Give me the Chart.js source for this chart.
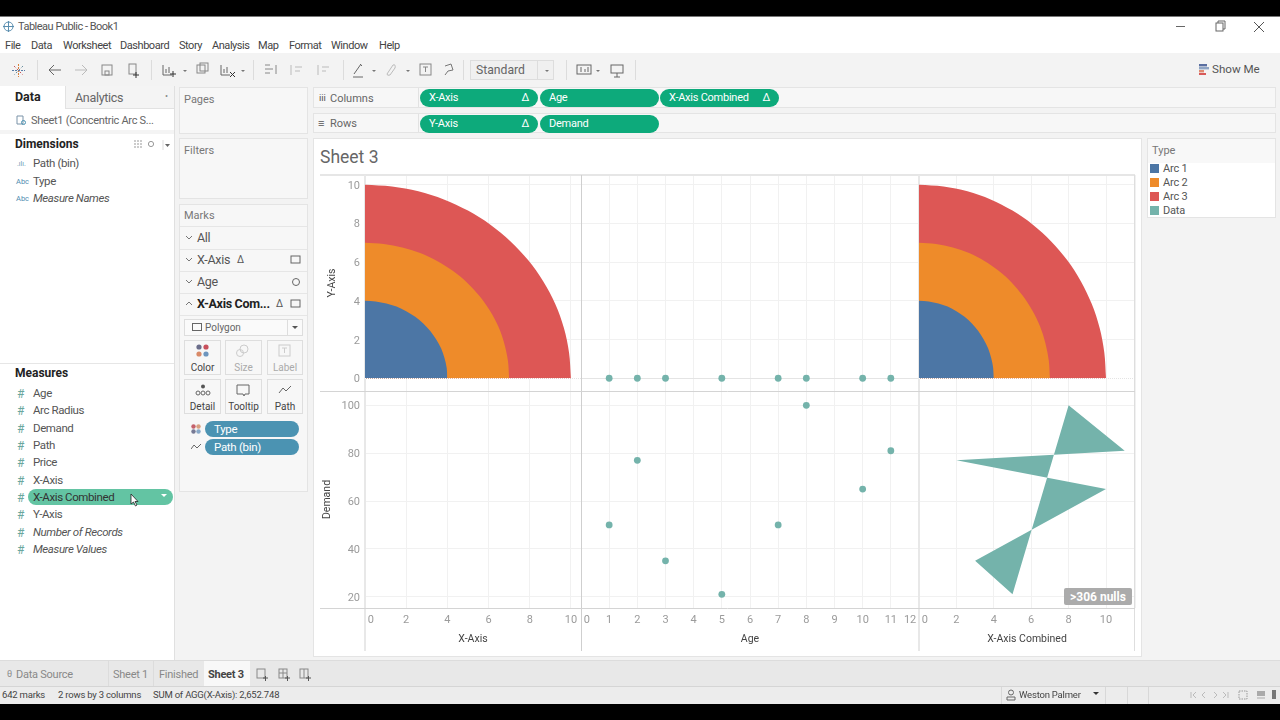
<!DOCTYPE html>
<html>
<head>
<meta charset="utf-8">
<title>Tableau Public - Book1</title>
<script src="https://cdn.jsdelivr.net/npm/chart.js@4"></script>
<style>
html, body { margin: 0; padding: 0; width: 1280px; height: 720px; overflow: hidden; background: #000; }
body { font-family: Roboto, sans-serif; font-size: 12px; color: #555; position: relative; }
div, svg, canvas { position: absolute; }
.t { position: absolute; white-space: nowrap; transform: translateY(-50%); line-height: 1; }
.box { background: #f7f7f7; border: 1px solid #e4e4e4; box-sizing: border-box; }
.pill { background: #0daa7b; color: #fff; border-radius: 9px; height: 18px; line-height: 18px; font-size: 11px; letter-spacing: -0.25px; box-sizing: border-box; padding-left: 9px; }
.pill b { position: absolute; right: 9px; top: 0; font-weight: 400; }
.bpill { background: #4b93b2; color: #fff; border-radius: 8px; height: 16px; line-height: 16px; left: 205px; width: 94px; padding-left: 9px; box-sizing: border-box; font-size: 11.5px; letter-spacing: -0.3px; }
.btn { background: #f7f7f7; border: 1px solid #dedede; box-sizing: border-box; width: 37px; height: 35px; text-align: center; font-size: 10px; padding-top: 21px; line-height: 12px; }
.sep { background: #dcdcdc; width: 1px; top: 60px; height: 20px; }
.tb path, .tb rect, .tb circle { fill: none; stroke: #666; stroke-width: 1; }
.item { font-size: 11.5px; color: #555; left: 33px; letter-spacing: -0.4px; margin-top: 0.5px; }
.hash { font-size: 12px; color: #6aa79e; left: 17px; margin-top: 0.5px; }
.mk { font-size: 12.5px; color: #555; left: 197px; letter-spacing: -0.3px; }
.leg { left: 1163px; font-size: 11px; color: #555; letter-spacing: -0.2px; margin-top: -0.5px; }
.sw { left: 1150px; width: 9px; height: 9px; }
.tab { font-size: 11px; color: #888; top: 674px; letter-spacing: -0.25px; }
.status { font-size: 9.5px; color: #444; top: 694.5px; letter-spacing: -0.2px; }
.menu { top: 45px; font-size: 11px; color: #444; letter-spacing: -0.45px; }
</style>
</head>
<body>
<div style="left:0;top:16px;width:1280px;height:688px;background:#f3f3f3;border-top:1px solid #777;box-sizing:border-box"></div>

<!-- title + menu bars -->
<div style="left:0;top:17px;width:1280px;height:36px;background:#fff"></div>
<svg style="left:2px;top:20px" width="13" height="13" class="tb"><circle cx="6.5" cy="6.5" r="4.5" style="stroke:#5b8fb0"/><path d="M6.5 1V12M1 6.5H12" style="stroke:#5b8fb0"/></svg>
<span class="t" style="left:18px;top:26px;font-size:11px;color:#555;letter-spacing:-0.5px">Tableau Public - Book1</span>
<svg style="left:1175px;top:20px" width="90" height="13"><path d="M1 6.5H10" stroke="#666"/><rect x="41" y="3" width="7" height="8" fill="none" stroke="#666"/><path d="M43 3V1H50V9H48" fill="none" stroke="#666"/><path d="M79 2L89 12M89 2L79 12" stroke="#555"/></svg>
<span class="t menu" style="left:5px">File</span>
<span class="t menu" style="left:31px">Data</span>
<span class="t menu" style="left:63px">Worksheet</span>
<span class="t menu" style="left:120px">Dashboard</span>
<span class="t menu" style="left:179px">Story</span>
<span class="t menu" style="left:212px">Analysis</span>
<span class="t menu" style="left:258px">Map</span>
<span class="t menu" style="left:289px">Format</span>
<span class="t menu" style="left:331px">Window</span>
<span class="t menu" style="left:379px">Help</span>

<!-- toolbar -->
<svg style="left:11px;top:63px" width="15" height="15"><path d="M7.5 1V14" stroke="#d9803a" stroke-dasharray="2 1"/><path d="M1 7.5H14" stroke="#5a7fa8" stroke-dasharray="2 1"/><path d="M3 3L12 12" stroke="#c9545a" stroke-dasharray="2 2"/><path d="M12 3L3 12" stroke="#6b8f9f" stroke-dasharray="2 2"/></svg>
<svg class="tb" style="left:48px;top:62px" width="290" height="16">
  <path d="M1 8H13M1 8L6 3M1 8L6 13"/>
  <path d="M27 8H39M39 8L34 3M39 8L34 13" style="stroke:#bbb"/>
  <rect x="54" y="3" width="10" height="10" style="stroke:#888"/><rect x="57" y="9" width="4" height="4" style="stroke:#888"/>
  <rect x="81" y="2" width="7" height="10" style="stroke:#888"/><path d="M85 13H91M88 10V16" style="stroke:#333"/>
  <path d="M115 3V13H124M118 11V7M121 11V5" /><path d="M122 12H128M125 9V15" style="stroke:#333"/>
  <rect x="149" y="3" width="8" height="8" style="stroke:#888"/><rect x="152" y="1" width="8" height="8" style="stroke:#888"/>
  <path d="M173 3V13H182M176 11V7M179 11V5"/><path d="M182 10L187 15M187 10L182 15" style="stroke:#333"/>
  <path d="M217 3H222M217 7H225M217 11H222M228 3V12" style="stroke:#888"/>
  <path d="M243 3V13M247 5H254M247 9H252" style="stroke:#bbb"/>
  <path d="M270 3V13M274 5H281M274 9H278" style="stroke:#bbb"/>
</svg>
<div class="sep" style="left:37px"></div><div class="sep" style="left:151px"></div><div class="sep" style="left:253px"></div>
<div class="sep" style="left:343px"></div><div class="sep" style="left:463px"></div><div class="sep" style="left:566px"></div><div class="sep" style="left:635px"></div>
<svg class="tb" style="left:352px;top:62px" width="110" height="16">
  <path d="M2 12L9 2M8 2L10 4M1 15H11"/>
  <path d="M35 12L41 3Q44 2 43 6L38 13Q35 14 35 12" style="stroke:#bbb"/>
  <rect x="68" y="2" width="11" height="11" style="stroke:#888"/><path d="M71 5H76M73.5 5V10" style="stroke:#888"/>
  <path d="M93 4L99 2L101 8L96 9L93 13" style="stroke:#777"/>
</svg>
<div style="left:470px;top:60px;width:84px;height:20px;background:#f0f0f0;border:1px solid #ddd;box-sizing:border-box"></div>
<span class="t" style="left:476px;top:70px;font-size:12.2px;color:#666">Standard</span>
<div style="left:537px;top:61px;width:1px;height:18px;background:#ddd"></div>
<svg style="left:165px;top:62px" width="450" height="16"><path d="M18 8L22 8L20 10Z M76 8L80 8L78 10Z M207 8L211 8L209 10Z M241 8L245 8L243 10Z M380 8L384 8L382 10Z M431 8L435 8L433 10Z" fill="#777"/></svg>
<svg class="tb" style="left:576px;top:62px" width="50" height="16"><rect x="1" y="3" width="14" height="9"/><path d="M5 5V10M9 7V10M12 5V10"/><rect x="35" y="3" width="12" height="8"/><path d="M41 11V15M38 15H44"/></svg>
<svg style="left:1199px;top:64px" width="11" height="11"><rect x="0" y="0" width="8" height="2.4" fill="#5a6fa0"/><rect x="0" y="3" width="10" height="2.4" fill="#8fa5c4"/><rect x="0" y="6" width="5" height="2.4" fill="#e08a70"/><rect x="0" y="9" width="7" height="2" fill="#d85a5a"/></svg>
<span class="t" style="left:1212px;top:69.5px;font-size:11.6px;color:#555">Show Me</span>

<!-- data pane -->
<div style="left:0;top:86px;width:175px;height:574px;background:#fff;border-right:1px solid #e0e0e0;box-sizing:border-box"></div>
<div style="left:65px;top:86px;width:109px;height:23px;background:#f4f4f4;border-left:1px solid #e2e2e2;border-bottom:1px solid #e2e2e2;box-sizing:border-box"></div>
<span class="t" style="left:15px;top:97px;font-size:12.5px;color:#222;font-weight:700">Data</span>
<span class="t" style="left:75px;top:98px;font-size:12.5px;color:#666;letter-spacing:-0.3px">Analytics</span>
<span class="t" style="left:165px;top:96px;font-size:9px;color:#888">•</span>
<svg style="left:15px;top:114px" class="tb" width="12" height="12"><path d="M2 2H8V10H2Z" style="stroke:#7b93a8"/><circle cx="8.5" cy="8.5" r="2" style="stroke:#4b93b2"/></svg>
<span class="t" style="left:31px;top:120px;font-size:11px;color:#666;letter-spacing:-0.3px">Sheet1 (Concentric Arc S...</span>
<div style="left:0;top:130px;width:174px;height:4px;background:#f4f4f4"></div>
<span class="t" style="left:15px;top:144px;font-size:12px;color:#222;font-weight:700">Dimensions</span>
<svg style="left:134px;top:140px" width="40" height="10"><path d="M0 1H8M0 4H8M0 7H8" stroke="#999" stroke-dasharray="2 1"/><circle cx="17" cy="4" r="2.6" fill="none" stroke="#999"/><path d="M29 0V10" stroke="#ddd"/><path d="M31 4L36 4L33.5 7Z" fill="#666"/></svg>
<span class="t" style="left:17px;top:164px;font-size:7px;color:#6b9bb5">.ılı.</span>
<span class="t" style="left:16px;top:181.5px;font-size:7.5px;color:#4e8db0">Abc</span>
<span class="t" style="left:16px;top:199px;font-size:7.5px;color:#4e8db0">Abc</span>
<span class="t item" style="top:163.5px">Path (bin)</span>
<span class="t item" style="top:181px">Type</span>
<span class="t item" style="top:198.5px;font-style:italic">Measure Names</span>
<div style="left:0;top:363px;width:174px;height:1px;background:#e6e6e6"></div>
<span class="t" style="left:15px;top:373px;font-size:12px;color:#222;font-weight:700">Measures</span>
<div style="left:28px;top:489px;width:145px;height:16px;border-radius:8px;background:#63c4a3"></div>
<span class="t hash" style="top:393px">#</span><span class="t item" style="top:393px">Age</span>
<span class="t hash" style="top:410.5px">#</span><span class="t item" style="top:410.5px">Arc Radius</span>
<span class="t hash" style="top:428px">#</span><span class="t item" style="top:428px">Demand</span>
<span class="t hash" style="top:445px">#</span><span class="t item" style="top:445px">Path</span>
<span class="t hash" style="top:462.5px">#</span><span class="t item" style="top:462.5px">Price</span>
<span class="t hash" style="top:480px">#</span><span class="t item" style="top:480px">X-Axis</span>
<span class="t hash" style="top:497px">#</span><span class="t item" style="top:497px;color:#333">X-Axis Combined</span>
<span class="t hash" style="top:514.5px">#</span><span class="t item" style="top:514.5px">Y-Axis</span>
<span class="t hash" style="top:532px">#</span><span class="t item" style="top:532px;font-style:italic">Number of Records</span>
<span class="t hash" style="top:549px">#</span><span class="t item" style="top:549px;font-style:italic">Measure Values</span>
<svg style="left:161px;top:494px" width="7" height="5"><path d="M0 0H6L3 3Z" fill="#fff"/></svg>
<svg style="left:130px;top:493px" width="10" height="15"><path d="M1 1V11L3.5 9L5.5 13L7 12L5 8.5H8Z" fill="#fff" stroke="#222" stroke-width="0.8"/></svg>

<!-- side cards -->
<div class="box" style="left:179px;top:87px;width:129px;height:47px"></div>
<span class="t" style="left:184px;top:99px;font-size:11px;color:#777">Pages</span>
<div class="box" style="left:179px;top:138px;width:129px;height:61px"></div>
<span class="t" style="left:184px;top:149.5px;font-size:11px;color:#777">Filters</span>
<div class="box" style="left:179px;top:204px;width:129px;height:288px"></div>
<span class="t" style="left:184px;top:215px;font-size:11px;color:#777">Marks</span>
<div style="left:180px;top:226px;width:127px;height:1px;background:#e6e6e6"></div>
<div style="left:180px;top:249px;width:127px;height:1px;background:#e6e6e6"></div>
<div style="left:180px;top:271px;width:127px;height:1px;background:#e6e6e6"></div>
<div style="left:180px;top:293px;width:127px;height:1px;background:#e6e6e6"></div>
<div style="left:180px;top:315px;width:127px;height:1px;background:#e6e6e6"></div>
<svg style="left:185px;top:235px" width="8" height="74" fill="none" stroke="#777"><path d="M1 1L4 4L7 1M1 23L4 26L7 23M1 45L4 48L7 45M1 70L4 67L7 70"/></svg>
<span class="t mk" style="top:238px">All</span>
<span class="t mk" style="top:260px">X-Axis</span><span class="t" style="left:237px;top:260px;font-size:10px">Δ</span>
<span class="t mk" style="top:282px">Age</span>
<span class="t mk" style="top:303.5px;color:#222;font-weight:700">X-Axis Com...</span><span class="t" style="left:276px;top:304px;font-size:10px">Δ</span>
<svg style="left:290px;top:255px" width="12" height="54" class="tb"><rect x="1" y="1" width="9" height="7"/><circle cx="6" cy="27" r="3.5"/><rect x="1" y="45" width="9" height="7"/></svg>
<div style="left:184px;top:319px;width:119px;height:17px;background:#fafafa;border:1px solid #ddd;box-sizing:border-box"></div>
<div style="left:287px;top:320px;width:1px;height:15px;background:#ddd"></div>
<svg class="tb" style="left:192px;top:323px" width="10" height="9"><rect x="0.5" y="0.5" width="9" height="7"/></svg>
<span class="t" style="left:205px;top:328px;font-size:10px;color:#666">Polygon</span>
<svg style="left:292px;top:326px" width="7" height="5"><path d="M0 0H6L3 3Z" fill="#555"/></svg>
<div class="btn" style="left:184px;top:340px;color:#444">Color</div>
<div class="btn" style="left:225px;top:340px;color:#aaa">Size</div>
<div class="btn" style="left:267px;top:340px;width:36px;color:#aaa">Label</div>
<div class="btn" style="left:184px;top:379px;color:#444">Detail</div>
<div class="btn" style="left:225px;top:379px;color:#444">Tooltip</div>
<div class="btn" style="left:267px;top:379px;width:36px;color:#444">Path</div>
<svg style="left:196px;top:344px" width="14" height="14"><circle cx="3" cy="3" r="2.6" fill="#6a6d8a"/><circle cx="10" cy="3" r="2.6" fill="#c8505c"/><circle cx="3" cy="10" r="2.6" fill="#d98a68"/><circle cx="10" cy="10" r="2.6" fill="#6d95bd"/></svg>
<svg class="tb" style="left:235px;top:344px" width="16" height="14"><circle cx="9" cy="5" r="4" style="stroke:#ccc"/><circle cx="5" cy="9" r="3.5" style="stroke:#ccc"/></svg>
<svg class="tb" style="left:278px;top:344px" width="14" height="14"><rect x="1" y="1" width="11" height="11" style="stroke:#ccc"/><path d="M4 4H9M6.5 4V9" style="stroke:#ccc"/></svg>
<svg class="tb" style="left:195px;top:384px" width="16" height="13"><circle cx="8" cy="2.5" r="2" style="fill:#555;stroke:none"/><circle cx="3" cy="9" r="2"/><circle cx="8" cy="9" r="2"/><circle cx="13" cy="9" r="2"/></svg>
<svg class="tb" style="left:236px;top:384px" width="16" height="14"><path d="M1 1H13V10H9L8 12L7 10H1Z"/></svg>
<svg class="tb" style="left:278px;top:385px" width="14" height="10"><path d="M1 8L5 3L8 6L13 1"/></svg>
<svg style="left:191px;top:424px" width="10" height="10"><circle cx="2.5" cy="2.5" r="2.2" fill="#c4626c"/><circle cx="7.5" cy="2.5" r="2.2" fill="#d9a080"/><circle cx="2.5" cy="7.5" r="2.2" fill="#777a95"/><circle cx="7.5" cy="7.5" r="2.2" fill="#88a8c8"/></svg>
<svg class="tb" style="left:191px;top:443px" width="10" height="8"><path d="M0 6L3 2L6 5L10 1"/></svg>
<div class="bpill" style="top:421px">Type</div>
<div class="bpill" style="top:439px">Path (bin)</div>

<!-- shelves -->
<div class="box" style="left:313px;top:87px;width:963px;height:21px"></div>
<div class="box" style="left:313px;top:113px;width:963px;height:20px"></div>
<div style="left:418px;top:88px;width:1px;height:19px;background:#e2e2e2"></div>
<div style="left:418px;top:114px;width:1px;height:18px;background:#e2e2e2"></div>
<span class="t" style="left:319px;top:97.5px;font-size:9.5px;color:#555">iii</span>
<span class="t" style="left:330px;top:98px;font-size:11px;color:#666">Columns</span>
<span class="t" style="left:318px;top:122.5px;font-size:11px;color:#555">≡</span>
<span class="t" style="left:330px;top:123px;font-size:11px;color:#666">Rows</span>
<div class="pill" style="left:420px;top:89px;width:118px">X-Axis<b>Δ</b></div>
<div class="pill" style="left:540px;top:89px;width:119px">Age</div>
<div class="pill" style="left:660px;top:89px;width:119px">X-Axis Combined<b>Δ</b></div>
<div class="pill" style="left:420px;top:114.5px;width:118px">Y-Axis<b>Δ</b></div>
<div class="pill" style="left:540px;top:114.5px;width:119px">Demand</div>

<!-- worksheet card -->
<div style="left:313px;top:138px;width:829px;height:519px;background:#fff;border:1px solid #e4e4e4;box-sizing:border-box"></div>
<span class="t" style="left:320px;top:157.5px;font-size:17.5px;color:#666">Sheet 3</span>
<canvas id="sheetChart" width="820" height="481" style="left:320px;top:170px;width:820px;height:481px"></canvas>
<div style="left:1064px;top:588px;width:68px;height:17px;line-height:18px;background:#ababab;border-radius:2px;color:#fff;font-size:12px;font-weight:700;text-align:center">&gt;306 nulls</div>

<!-- legend card -->
<div style="left:1147px;top:138px;width:129px;height:80px;background:#fff;border:1px solid #e4e4e4;box-sizing:border-box"></div>
<div style="left:1148px;top:139px;width:127px;height:24px;background:#f8f8f8"></div>
<span class="t" style="left:1152px;top:150px;font-size:11px;color:#777">Type</span>
<div class="sw" style="top:164px;background:#4c76a5"></div><span class="t leg" style="top:168.5px">Arc 1</span>
<div class="sw" style="top:178px;background:#ee8b2a"></div><span class="t leg" style="top:182.5px">Arc 2</span>
<div class="sw" style="top:192px;background:#dd5755"></div><span class="t leg" style="top:196.5px">Arc 3</span>
<div class="sw" style="top:206px;background:#74b3ab"></div><span class="t leg" style="top:210.5px">Data</span>

<!-- tab + status bars -->
<div style="left:0;top:660px;width:1280px;height:27px;background:#e8e8e8;border-top:1px solid #dcdcdc;border-bottom:1px solid #d5d5d5;box-sizing:border-box"></div>
<div style="left:0;top:687px;width:1280px;height:17px;background:#ececec"></div>
<div style="left:0;top:704px;width:1280px;height:16px;background:#000"></div>
<div style="left:108px;top:661px;width:1px;height:25px;background:#dcdcdc"></div>
<div style="left:153px;top:661px;width:1px;height:25px;background:#dcdcdc"></div>
<div style="left:204px;top:661px;width:46px;height:25px;background:#f8f8f8"></div>
<span class="t" style="left:7px;top:674px;font-size:9px;color:#888">θ</span>
<span class="t tab" style="left:16px">Data Source</span>
<span class="t tab" style="left:113px">Sheet 1</span>
<span class="t tab" style="left:159px">Finished</span>
<span class="t tab" style="left:208px;color:#444;font-weight:700">Sheet 3</span>
<svg class="tb" style="left:256px;top:668px" width="58" height="13"><rect x="1" y="1" width="8" height="9" style="stroke:#888"/><path d="M7 10H12M9.5 8V13" style="stroke:#555"/><rect x="23" y="1" width="8" height="9" style="stroke:#888"/><path d="M23 5H31M27 1V10" style="stroke:#888"/><path d="M29 10H34M31.5 8V13" style="stroke:#555"/><rect x="44" y="1" width="8" height="9" style="stroke:#888"/><path d="M48 1V10" style="stroke:#888"/><path d="M50 10H55M52.5 8V13" style="stroke:#555"/></svg>
<span class="t status" style="left:2px">642 marks</span>
<span class="t status" style="left:58px">2 rows by 3 columns</span>
<span class="t status" style="left:153px">SUM of AGG(X-Axis): 2,652.748</span>
<div style="left:1001px;top:687px;width:1px;height:17px;background:#d8d8d8"></div>
<div style="left:1105px;top:687px;width:1px;height:17px;background:#d8d8d8"></div>
<div style="left:1127px;top:687px;width:1px;height:17px;background:#d8d8d8"></div>
<div style="left:1148px;top:687px;width:1px;height:17px;background:#d8d8d8"></div>
<svg class="tb" style="left:1006px;top:689px" width="10" height="12"><circle cx="5" cy="3.5" r="2.5"/><path d="M1 11V8H9V11Z"/></svg>
<span class="t status" style="left:1019px">Weston Palmer</span>
<svg style="left:1093px;top:692px" width="7" height="5"><path d="M0 0H6L3 3Z" fill="#333"/></svg>
<svg style="left:1190px;top:689px" width="86" height="12"><path d="M1 3V9M6 3L3 6L6 9M15 3L12 6L15 9M24 3L27 6L24 9M33 3L36 6L33 9M38 3V9" stroke="#bbb" fill="none"/><rect x="49" y="2" width="8" height="8" fill="none" stroke="#999" stroke-dasharray="1.5 1"/><rect x="67" y="2" width="8" height="5" fill="#aaa"/><path d="M67 9H75" stroke="#aaa"/><rect x="82" y="1" width="4" height="9" fill="#777"/></svg>

<script>
const arcTypes = ['Arc 1', 'Arc 2', 'Arc 3'];
const arc1X = [0, 0.52, 1.04, 1.53, 2, 2.44, 2.83, 3.17, 3.46, 3.70, 3.86, 3.97, 4];
const arc1Y = [4, 3.97, 3.86, 3.70, 3.46, 3.17, 2.83, 2.44, 2, 1.53, 1.04, 0.52, 0];
const arc2X = [0, 0.91, 1.81, 2.68, 3.5, 4.26, 4.95, 5.55, 6.06, 6.47, 6.76, 6.94, 7];
const arc2Y = [7, 6.94, 6.76, 6.47, 6.06, 5.55, 4.95, 4.26, 3.5, 2.68, 1.81, 0.91, 0];
const arc3X = [0, 1.31, 2.59, 3.83, 5, 6.09, 7.07, 7.93, 8.66, 9.24, 9.66, 9.91, 10];
const arc3Y = [10, 9.91, 9.66, 9.24, 8.66, 7.93, 7.07, 6.09, 5, 3.83, 2.59, 1.31, 0];

const ageValues = [1, 2, 3, 5, 7, 8, 10, 11];
const zeroValues = [0, 0, 0, 0, 0, 0, 0, 0];
const demandValues = [50, 77, 35, 21, 50, 100, 65, 81];

const polygonX = [8, 11, 2, 10, 3, 5];
const polygonY = [100, 81, 77, 65, 35, 21];

const xAxisTicks = [0, 2, 4, 6, 8, 10];
const ageTicks = [0, 1, 2, 3, 4, 5, 6, 7, 8, 9, 10, 11, 12];
const combinedTicks = [0, 2, 4, 6, 8, 10];
const yAxisTicks = [0, 2, 4, 6, 8, 10];
const demandTicks = [20, 40, 60, 80, 100];

const colors = { arc1: '#4c76a5', arc2: '#ee8b2a', arc3: '#dd5755', data: '#74b3ab' };
const gridColor = '#f1f1f1';
const axisFont = 'Roboto';

function toPoints(xs, ys) {
    return xs.map((x, i) => ({ x, y: ys[i] }));
}

function arcDataset(label, xs, ys, color, xAxisID) {
    return {
        label,
        data: toPoints(xs, ys),
        xAxisID,
        yAxisID: 'y1',
        showLine: true,
        fill: 'origin',
        tension: 0.33,
        backgroundColor: color,
        borderColor: color,
        borderWidth: 0,
        pointRadius: 0
    };
}

function dotDataset(label, ys, yAxisID) {
    return {
        label,
        data: toPoints(ageValues, ys),
        xAxisID: 'x2',
        yAxisID,
        backgroundColor: colors.data,
        borderWidth: 0,
        pointRadius: 3.4
    };
}

// Tableau panes: same stack on each side, one x scale per column and one y scale per row
function xScale(title, ticks, max, weight, inner) {
    const last = ticks[ticks.length - 1];
    return {
        type: 'linear',
        axis: 'x',
        position: 'bottom',
        stack: 'columns',
        stackWeight: weight,
        min: 0,
        max,
        afterBuildTicks: scale => {
            // extra tick at the pane edge keeps the last real label centred with align inner
            const values = inner ? ticks.concat(max) : ticks;
            scale.ticks = values.map(value => ({ value }));
        },
        afterFit: scale => {
            scale.height = 43;
            scale.paddingLeft = 0;
            scale.paddingRight = 0;
        },
        border: { display: false },
        grid: { color: gridColor, drawTicks: false },
        ticks: {
            color: '#9b9b9b',
            font: { family: axisFont, size: 11 },
            padding: 6,
            align: 'inner',
            autoSkip: false,
            maxRotation: 0,
            // edge labels sit a little further inside the pane than align inner puts them
            callback: value => {
                if (!ticks.includes(value)) return '';
                if (value === 0) return ' ' + value;
                return !inner && value === last ? value + ' ' : value;
            }
        },
        title: {
            display: true,
            text: title,
            color: '#444',
            font: { family: axisFont, size: 10.5 },
            padding: { top: 0, bottom: 5 }
        }
    };
}

function yScale(title, ticks, min, max, weight, titlePad) {
    return {
        type: 'linear',
        axis: 'y',
        position: 'left',
        stack: 'rows',
        stackWeight: weight,
        min,
        max,
        afterBuildTicks: scale => { scale.ticks = ticks.map(value => ({ value })); },
        afterFit: scale => {
            scale.width = 45;
            scale.paddingTop = 0;
            scale.paddingBottom = 0;
        },
        border: { display: false },
        grid: {
            color: ctx => ctx.tick && ctx.tick.value === 0 ? '#e4e4e4' : gridColor,
            drawTicks: false
        },
        ticks: {
            color: '#9b9b9b',
            font: { family: axisFont, size: 11 },
            padding: 5,
            labelOffset: 1.3,
            autoSkip: false,
            callback: value => value
        },
        title: {
            display: true,
            text: title,
            color: '#444',
            font: { family: axisFont, size: 10.5 },
            padding: { top: titlePad, bottom: 0 }
        }
    };
}

// Closed shape through the dataset's own points, the line element can't fill a self-crossing path
const polygonFill = {
    id: 'polygonFill',
    beforeDatasetDraw(chart, args) {
        const dataset = chart.data.datasets[args.index];
        if (!dataset.polygon) return;
        const { ctx } = chart;
        const points = args.meta.data;
        ctx.save();
        ctx.beginPath();
        points.forEach((p, i) => (i === 0 ? ctx.moveTo(p.x, p.y) : ctx.lineTo(p.x, p.y)));
        ctx.closePath();
        ctx.fillStyle = dataset.polygon;
        ctx.fill();
        ctx.restore();
    }
};

function strokeLine(ctx, x1, y1, x2, y2, color, width) {
    ctx.strokeStyle = color;
    ctx.lineWidth = width;
    ctx.beginPath();
    ctx.moveTo(x1, y1);
    ctx.lineTo(x2, y2);
    ctx.stroke();
}

// Pane dividers sit on top of the grid, the dotted zero line on top of the arcs
const paneFrame = {
    id: 'paneFrame',
    beforeDatasetsDraw(chart) {
        const { ctx, chartArea, scales } = chart;
        const bottom = chart.height;
        ctx.save();
        strokeLine(ctx, 0, chartArea.top, chartArea.right, chartArea.top, '#e6e6e6', 2);
        strokeLine(ctx, scales.x1.left, chartArea.top, scales.x1.left, bottom, '#e8e8e8', 2);
        strokeLine(ctx, scales.x3.left, chartArea.top, scales.x3.left, bottom, '#e8e8e8', 2);
        strokeLine(ctx, scales.x2.left + 0.5, chartArea.top, scales.x2.left + 0.5, bottom, '#cfcfcf', 1);
        strokeLine(ctx, chartArea.right - 0.5, chartArea.top, chartArea.right - 0.5, bottom, '#dedede', 1);
        strokeLine(ctx, 0, scales.y1.bottom + 0.5, chartArea.right, scales.y1.bottom + 0.5, '#d4d4d4', 1);
        strokeLine(ctx, 0, chartArea.bottom + 0.5, chartArea.right, chartArea.bottom + 0.5, '#d4d4d4', 1);
        ctx.restore();
    },
    afterDatasetsDraw(chart) {
        const { ctx, scales } = chart;
        const zero = Math.round(scales.y1.getPixelForValue(0)) + 0.5;
        ctx.save();
        ctx.setLineDash([1, 1]);
        strokeLine(ctx, scales.x1.left, zero, scales.x1.right, zero, '#fff', 1);
        strokeLine(ctx, scales.x3.left, zero, scales.x3.right, zero, '#fff', 1);
        ctx.restore();
    }
};

new Chart(document.getElementById('sheetChart').getContext('2d'), {
    type: 'scatter',
    data: {
        datasets: [
            arcDataset(arcTypes[0], arc1X, arc1Y, colors.arc1, 'x1'),
            arcDataset(arcTypes[1], arc2X, arc2Y, colors.arc2, 'x1'),
            arcDataset(arcTypes[2], arc3X, arc3Y, colors.arc3, 'x1'),
            arcDataset(arcTypes[0], arc1X, arc1Y, colors.arc1, 'x3'),
            arcDataset(arcTypes[1], arc2X, arc2Y, colors.arc2, 'x3'),
            arcDataset(arcTypes[2], arc3X, arc3Y, colors.arc3, 'x3'),
            dotDataset('Data', zeroValues, 'y1'),
            dotDataset('Data', demandValues, 'y2'),
            {
                label: 'Data',
                data: toPoints(polygonX, polygonY),
                xAxisID: 'x3',
                yAxisID: 'y2',
                polygon: colors.data,
                pointRadius: 0
            }
        ]
    },
    options: {
        responsive: false,
        animation: false,
        devicePixelRatio: 1,
        layout: { padding: { top: 5, right: 5, left: 0, bottom: 0 } },
        plugins: { legend: { display: false }, tooltip: { enabled: false } },
        scales: {
            x1: xScale('X-Axis', xAxisTicks, 10.49, 216, true),
            x2: xScale('Age', ageTicks, 12, 338, false),
            x3: xScale('X-Axis Combined', combinedTicks, 11.55, 216, true),
            // bottom row first: Chart.js stacks left axes from the bottom up
            y2: yScale('Demand', demandTicks, 15.28, 105.98, 217, 1),
            y1: yScale('Y-Axis', yAxisTicks, -0.66, 10.5, 216, 6)
        }
    },
    plugins: [polygonFill, paneFrame]
});
</script>
</body>
</html>
